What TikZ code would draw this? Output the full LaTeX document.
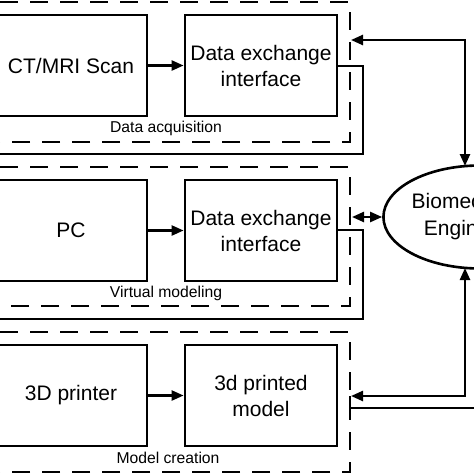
\documentclass[tikz,border=0pt]{standalone}
\usepackage{fontspec}
\setmainfont{Liberation Sans}
\usetikzlibrary{arrows.meta,shapes.geometric}
\begin{document}
\begin{tikzpicture}[x=1pt,y=-1pt,
  blk/.style={draw,line width=2.8pt,minimum width=152pt,minimum height=101pt,inner sep=0pt,align=center,font=\fontsize{21}{26}\selectfont},
  frame/.style={draw,line width=2.6pt,dash pattern=on 18pt off 12pt},
  wire/.style={draw,line width=2.6pt},
  arr/.style={line width=2.4pt,-{Triangle[length=12pt,width=10pt]}},
  darr/.style={line width=2.4pt,{Triangle[length=12pt,width=10pt]}-{Triangle[length=12pt,width=10pt]}},
  lab/.style={font=\fontsize{15.7}{18}\selectfont,inner sep=0pt}]
\useasboundingbox (0,0) rectangle (474,474);
\clip (0,0) rectangle (474,474);
% dashed frames
\draw[frame] (-30,2) -- (350,2) -- (350,142) -- (-30,142);
\draw[frame] (-30,167) -- (350,167) -- (350,306) -- (-30,306);
\draw[frame] (-30,332) -- (350,332) -- (350,472) -- (-30,472);
% blocks
\node[blk] (ct) at (71,65.5) {CT/MRI Scan};
\node[blk] (dx1) at (261,65.5) {Data exchange\\interface};
\node[blk] (pc) at (71,230.5) {PC};
\node[blk] (dx2) at (261,230.5) {Data exchange\\interface};
\node[blk] (pr) at (71,395.5) {3D printer};
\node[blk] (pm) at (261,395.5) {3d printed\\model};
% labels
\node[lab] (l1) at (166,128) {Data acquisition};
\node[lab] (l2) at (166,293) {Virtual modeling};
\node[lab] (l3) at (168,458) {Model creation};
% ellipse
\node[draw,ellipse,line width=2.6pt,minimum width=184pt,minimum height=103pt,inner sep=0pt,align=center,font=\fontsize{21}{27}\selectfont] (bio) at (480,217) {Biomechanical\\Engineering};
% coordinates
\coordinate (c1) at (351,40);
\coordinate (t1) at (465,166);
\coordinate (c2) at (352,217);
\coordinate (c3) at (351,396);
\coordinate (t3) at (465,268);
\coordinate (s1a) at (363,66);
\coordinate (s1b) at (363,154);
\coordinate (s1c) at (-30,154);
\coordinate (s2a) at (363,230);
\coordinate (s2b) at (363,319);
\coordinate (s2c) at (-30,319);
\coordinate (s3a) at (350,396);
\coordinate (s3b) at (350,408);
\coordinate (s3c) at (490,408);
% solid wraps
\draw[wire] (dx1.east |- s1a) -- (s1a) -- (s1b) -- (s1c);
\draw[wire] (dx2.east |- s2a) -- (s2a) -- (s2b) -- (s2c);
\draw[wire] (s3a) -- (s3b) -- (s3c);
% arrows
\draw[arr] (ct.east) -- (dx1.west);
\draw[arr] (pc.east) -- (dx2.west);
\draw[arr] (pr.east) -- (pm.west);
\draw[darr] (c1) -| (t1);
\draw[darr] (c2) -- (bio.west);
\draw[darr] (c3) -| (t3);
\end{tikzpicture}
\end{document}
